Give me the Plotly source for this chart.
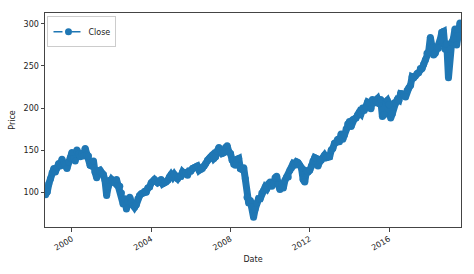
import pandas as pd
import plotly.graph_objects as go

# Monthly closing price (month-start positions)
start_month = "1998-09-01"
close = [
    97, 100, 110, 116,
    123, 128, 124, 129, 134, 131, 139, 133, 132, 128, 136, 141,
    147, 140, 137, 150, 145, 142, 146, 143, 152, 144, 143, 132,
    131, 137, 124, 117, 125, 126, 123, 121, 114, 96, 107, 114,
    115, 113, 111, 115, 108, 107, 99, 86, 92, 80, 89, 94,
    88, 84, 82, 85, 92, 96, 98, 99, 101, 100, 105, 106,
    111, 113, 115, 113, 111, 112, 115, 110, 111, 112, 114, 118,
    121, 118, 121, 118, 116, 119, 119, 124, 122, 123, 120, 125,
    125, 128, 129, 130, 131, 126, 127, 128, 131, 134, 138, 140,
    142, 144, 140, 142, 149, 153, 150, 146, 147, 153, 155, 148,
    146, 138, 133, 132, 139, 140, 128, 127, 129, 116, 94, 87,
    90, 83, 70, 80, 87, 92, 92, 99, 102, 106, 104, 110,
    112, 107, 110, 117, 119, 109, 103, 110, 105, 114, 118, 118,
    126, 129, 134, 133, 136, 135, 132, 129, 115, 112, 125, 124,
    126, 131, 137, 141, 140, 131, 136, 138, 141, 144, 141, 142,
    142, 150, 152, 158, 159, 163, 160, 169, 163, 168, 175, 181,
    184, 178, 186, 187, 188, 192, 195, 193, 200, 197, 201, 207,
    206, 199, 210, 206, 209, 211, 205, 210, 190, 192, 207, 209,
    204, 188, 193, 206, 206, 210, 209, 217, 217, 216, 213, 221,
    224, 227, 237, 236, 238, 241, 242, 247, 247, 252, 257, 265,
    267, 284, 271, 263, 265, 271, 271, 281, 290, 291, 270, 276,
    236, 270, 278, 282, 294, 275, 294, 301,
]
dates = pd.date_range(start_month, periods=len(close), freq="MS")
tick_years = ["2000-01-01", "2004-01-01", "2008-01-01", "2012-01-01", "2016-01-01"]
tick_text = ["2000", "2004", "2008", "2012", "2016"]

blue = "#1f77b4"
axis_col = "#444444"
txt_col = "#222222"

fig = go.Figure()
# dense marker band (overlapping markers drawn as a thick stroke)
fig.add_trace(go.Scatter(
    x=dates, y=close, mode="lines", showlegend=False, hoverinfo="skip",
    line=dict(color=blue, width=7),
))
fig.add_trace(go.Scatter(
    x=dates, y=close, mode="lines+markers", name="Close",
    line=dict(color=blue, width=1.5, dash="dash"),
    marker=dict(color=blue, size=7, line=dict(width=0)),
))

fig.update_layout(
    width=474, height=274,
    margin=dict(l=41, r=12, t=12, b=42),
    paper_bgcolor="white", plot_bgcolor="white",
    font=dict(family="DejaVu Sans", size=8, color=txt_col),
    showlegend=True,
    legend=dict(x=0.006, y=0.985, xanchor="left", yanchor="top",
                bgcolor="rgba(255,255,255,0.8)", bordercolor="#cccccc", borderwidth=1,
                font=dict(size=8), itemwidth=30, tracegroupgap=0),
)
fig.update_xaxes(
    range=["1998-08-22", "2019-08-20"],
    tickvals=tick_years, ticktext=tick_text, tickangle=-30,
    showgrid=False, zeroline=False,
    showline=True, mirror=True, linecolor=axis_col, linewidth=1,
    ticks="outside", ticklen=3.5, tickcolor=axis_col, tickwidth=1,
    title=dict(text="Date", standoff=4, font=dict(size=8)),
    tickfont=dict(size=8),
)
fig.update_yaxes(
    range=[58.5, 313],
    tickvals=[100, 150, 200, 250, 300],
    showgrid=False, zeroline=False,
    showline=True, mirror=True, linecolor=axis_col, linewidth=1,
    ticks="outside", ticklen=3.5, tickcolor=axis_col, tickwidth=1,
    title=dict(text="Price", standoff=6, font=dict(size=8)),
    tickfont=dict(size=8),
)

fig.write_html("out.html")
